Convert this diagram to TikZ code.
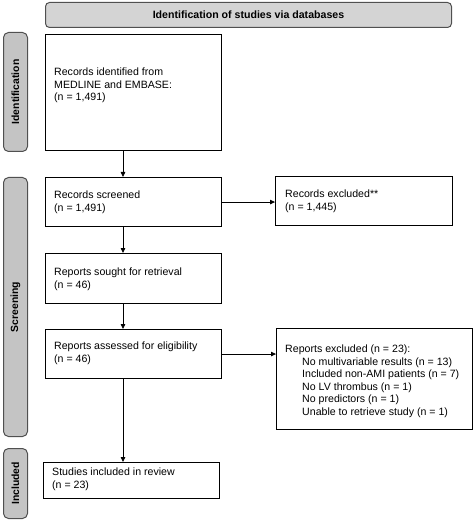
\documentclass[tikz,border=0pt]{standalone}
\usepackage{fontspec}
\setmainfont{Liberation Sans}
\usetikzlibrary{arrows.meta}
\definecolor{hdrfill}{HTML}{D4D4D4}
\definecolor{sidefill}{HTML}{C4C4C4}
\definecolor{sideline}{HTML}{505050}
\begin{document}
\begin{tikzpicture}[x=1pt,y=-1pt,
  box/.style={draw=black,line width=1.1pt,anchor=north west,inner sep=0pt},
  side/.style={draw=sideline,fill=sidefill,line width=1pt,rounded corners=5pt,anchor=north west,inner sep=0pt},
  txt/.style={anchor=north west,inner sep=0pt,align=left,font=\fontsize{10.6}{12.5}\selectfont},
  sidetxt/.style={rotate=90,font=\bfseries\fontsize{10.4}{12}\selectfont,inner sep=0pt},
  conn/.style={line width=0.8pt,-{Triangle[length=5pt,width=4.5pt]}}]
\useasboundingbox (0,0) rectangle (474,521);
% header
\node[draw=sideline,fill=hdrfill,line width=1pt,rounded corners=4pt,anchor=north west,inner sep=0pt,
  minimum width=406pt,minimum height=25pt,font=\bfseries\fontsize{10.6}{12}\selectfont] (hdr) at (45,2) {Identification of studies via databases};
% side bars
\node[side,minimum width=24pt,minimum height=119pt] (sid) at (3,32) {};
\node[sidetxt] at (sid.center) {Identification};
\node[side,minimum width=24pt,minimum height=259pt] (sscr) at (3,177) {};
\node[sidetxt] at (sscr.center) {Screening};
\node[side,minimum width=24pt,minimum height=70pt] (sinc) at (3,448) {};
\node[sidetxt] at (sinc.center) {Included};
% boxes
\node[box,minimum width=176pt,minimum height=116pt] (b1) at (45,34) {};
\node[txt] at (54,68) {Records identified from\\MEDLINE and EMBASE:\\(n = 1,491)};
\node[box,minimum width=176pt,minimum height=49pt] (b2) at (45,177) {};
\node[txt] at (54,191) {Records screened\\(n = 1,491)};
\node[box,minimum width=177pt,minimum height=49pt] (ex1) at (275,176) {};
\node[txt] at (285,190) {Records excluded**\\(n = 1,445)};
\node[box,minimum width=176pt,minimum height=50pt] (b3) at (45,253) {};
\node[txt] at (54,268) {Reports sought for retrieval\\(n = 46)};
\node[box,minimum width=176pt,minimum height=49pt] (b4) at (45,329) {};
\node[txt] at (54,342) {Reports assessed for eligibility\\(n = 46)};
\node[box,minimum width=196pt,minimum height=101pt] (ex2) at (276,328) {};
\node[txt] at (285,345) {Reports excluded (n = 23):\\
\hspace*{17pt}No multivariable results (n = 13)\\
\hspace*{17pt}Included non-AMI patients (n = 7)\\
\hspace*{17pt}No LV thrombus (n = 1)\\
\hspace*{17pt}No predictors (n = 1)\\
\hspace*{17pt}Unable to retrieve study (n = 1)};
\node[box,minimum width=176pt,minimum height=36pt] (b5) at (43,462) {};
\node[txt] at (52,468) {Studies included in review\\(n = 23)};
% connectors
\coordinate (ax) at (123,0);
\draw[conn] (b1.south -| ax) -- (b2.north -| ax);
\draw[conn] (b2.south -| ax) -- (b3.north -| ax);
\draw[conn] (b3.south -| ax) -- (b4.north -| ax);
\draw[conn] (b4.south -| ax) -- (b5.north -| ax);
\draw[conn] (b2.east) -- (b2.east -| ex1.west);
\draw[conn] (b4.east) -- (b4.east -| ex2.west);
\end{tikzpicture}
\end{document}
